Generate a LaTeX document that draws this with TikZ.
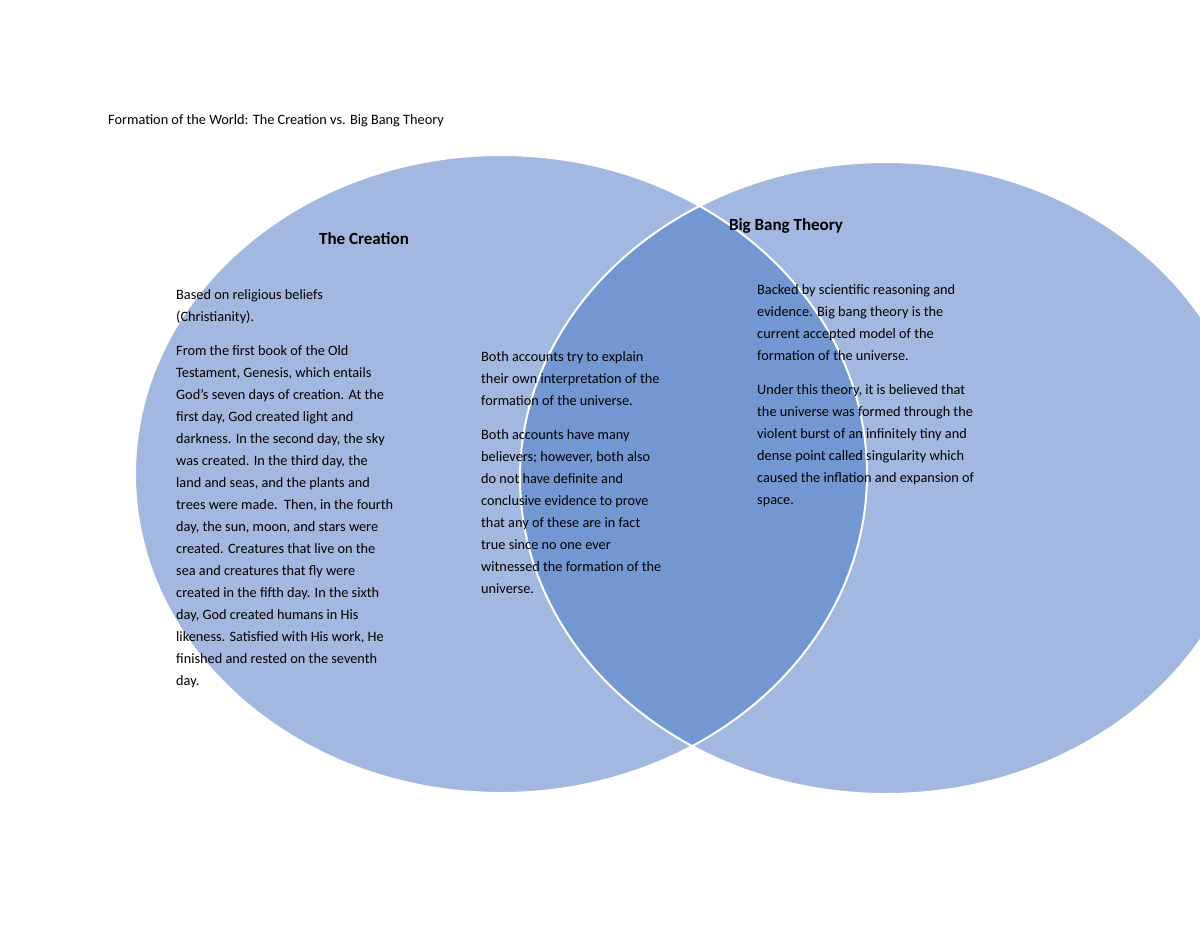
\documentclass[tikz,border=0pt]{standalone}
\usepackage{fontspec}
\setmainfont{Carlito}
\definecolor{vbase}{HTML}{A2B8E0}
\definecolor{vover}{HTML}{7397D3}
\tikzset{
  body/.style={anchor=north west,align=left,inner sep=0pt,font=\fontsize{14.3}{22}\selectfont},
  head/.style={font=\fontsize{17}{20}\selectfont\bfseries,inner sep=0pt},
  ring/.style={draw=white,line width=2pt}
}
\begin{document}
\begin{tikzpicture}[x=1pt,y=-1pt]
\fill[white] (0,0) rectangle (1200,927);
\clip (0,0) rectangle (1200,927);
\fill[vbase] (501,474) ellipse [x radius=366,y radius=319];
\fill[vbase] (886,478) ellipse [x radius=366,y radius=316];
\begin{scope}
\clip (501,474) ellipse [x radius=366,y radius=319];
\fill[vover] (886,478) ellipse [x radius=366,y radius=316];
\end{scope}
\draw[ring] (501,474) ellipse [x radius=366,y radius=319];
\draw[ring] (886,478) ellipse [x radius=366,y radius=316];
\node[anchor=west,inner sep=0pt,font=\fontsize{14.3}{17}\selectfont] (title) at (108,121) {Formation of the World: The Creation vs. Big Bang Theory};
\node[head] (hc) at (364,239) {The Creation};
\node[head] (hb) at (786,226) {Big Bang Theory};
\node[body] (lt) at (176,289) {Based on religious beliefs\\(Christianity).\\[12pt]
From the first book of the Old\\Testament, Genesis, which entails\\God’s seven days of creation. At the\\first day, God created light and\\darkness. In the second day, the sky\\was created. In the third day, the\\land and seas, and the plants and\\trees were made.\ \ Then, in the fourth\\day, the sun, moon, and stars were\\created. Creatures that live on the\\sea and creatures that fly were\\created in the fifth day. In the sixth\\day, God created humans in His\\likeness. Satisfied with His work, He\\finished and rested on the seventh\\day.};
\node[body] (mt) at (481,351) {Both accounts try to explain\\their own interpretation of the\\formation of the universe.\\[12pt]
Both accounts have many\\believers; however, both also\\do not have definite and\\conclusive evidence to prove\\that any of these are in fact\\true since no one ever\\witnessed the formation of the\\universe.};
\node[body] (rt) at (757,284) {Backed by scientific reasoning and\\evidence. Big bang theory is the\\current accepted model of the\\formation of the universe.\\[12pt]
Under this theory, it is believed that\\the universe was formed through the\\violent burst of an infinitely tiny and\\dense point called singularity which\\caused the inflation and expansion of\\space.};
\end{tikzpicture}
\end{document}
